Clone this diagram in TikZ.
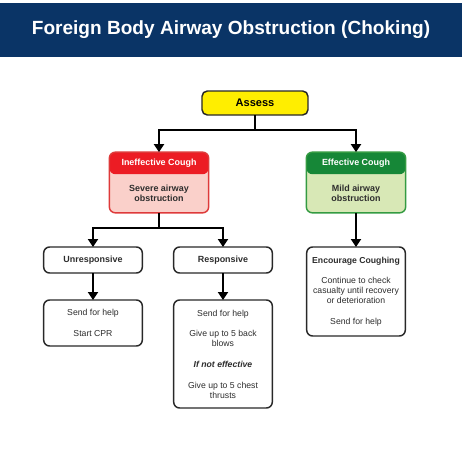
\documentclass[tikz,border=0pt]{standalone}
\usepackage{fontspec}
\setmainfont{Liberation Sans}
\usetikzlibrary{arrows.meta}
\definecolor{navy}{RGB}{10,52,102}
\definecolor{yel}{RGB}{255,238,0}
\definecolor{redhead}{RGB}{236,28,36}
\definecolor{redborder}{RGB}{222,58,58}
\definecolor{pinkbody}{RGB}{250,208,202}
\definecolor{greenhead}{RGB}{22,135,55}
\definecolor{greenborder}{RGB}{52,155,66}
\definecolor{greenbody}{RGB}{216,232,182}
\definecolor{boxline}{RGB}{40,40,40}
\definecolor{txt}{RGB}{45,45,45}
\begin{document}
\begin{tikzpicture}[x=0.75pt,y=-0.75pt,
  every node/.style={inner sep=0pt, outer sep=0pt},
  conn/.style={line width=1.5pt, black},
  arr/.style={conn, -{Triangle[width=7.5pt,length=6pt]}},
  whitebox/.style={draw=boxline, line width=1.1pt, rounded corners=4.5pt, fill=white,
    align=center, minimum width=74pt, text=txt},
  twobox/.style={line width=1.1pt, rounded corners=4.5pt, minimum width=74.5pt, minimum height=45.5pt},
  bold/.style={font=\fontsize{6.7}{7.8}\selectfont\bfseries, align=center},
  plain/.style={font=\fontsize{6.5}{7.5}\selectfont, align=center},
]
\useasboundingbox (0,0) rectangle (462,455);
% title bar
\node[fill=navy, minimum width=346.5pt, minimum height=40.5pt, text=white,
  font=\fontsize{14.3}{16}\selectfont\bfseries] (title) at (231,30) {Foreign Body Airway Obstruction (Choking)};
% assess
\node[draw=boxline, fill=yel, line width=1.1pt, rounded corners=4pt, minimum width=79.5pt,
  minimum height=18pt, font=\fontsize{8.3}{9}\selectfont\bfseries] (assess) at (255,103) {Assess};
% ineffective cough
\node[twobox, draw=redborder, fill=pinkbody, path picture={\fill[redhead] (path picture bounding box.north west) rectangle ([yshift=-16.5pt]path picture bounding box.north east);}] (ineff) at (159,182.5) {};
\node[bold, text=white] (ineffh) at (159,163.5) {Ineffective Cough};
\node[bold, text=txt] (ineffb) at (159,193.5) {Severe airway\\obstruction};
% effective cough
\node[twobox, draw=greenborder, fill=greenbody, path picture={\fill[greenhead] (path picture bounding box.north west) rectangle ([yshift=-16.5pt]path picture bounding box.north east);}] (eff) at (356,182.5) {};
\node[bold, text=white] (effh) at (356,163.5) {Effective Cough};
\node[bold, text=txt] (effb) at (356,193.5) {Mild airway\\obstruction};
% second level
\node[whitebox, bold, minimum height=19.5pt] (unresp) at (93,260) {Unresponsive};
\node[whitebox, bold, minimum height=19.5pt] (resp) at (223,260) {Responsive};
\node[whitebox, plain, minimum height=34.5pt] (send) at (93,323) {Send for help\\[8pt]Start CPR};
\node[whitebox, plain, minimum height=81pt] (respb) at (223,354) {Send for help\\[8pt]Give up to 5 back\\blows\\[8pt]{\bfseries\itshape If not effective}\\[8pt]Give up to 5 chest\\thrusts};
\node[whitebox, plain, minimum height=66.75pt] (enc) at (356,291.5) {{\bfseries Encourage Coughing}\\[8pt]Continue to check\\casualty until recovery\\or deterioration\\[8pt]Send for help};
% connectors
\coordinate (j1) at (255,130);
\coordinate (j2) at (159,228);
\draw[conn] (assess.south) -- (j1);
\draw[arr] (j1) -| (ineff.north);
\draw[arr] (j1) -| (eff.north);
\draw[conn] (ineff.south) -- (j2);
\draw[arr] (j2) -| (unresp.north);
\draw[arr] (j2) -| (resp.north);
\draw[arr] (unresp.south) -- (send.north);
\draw[arr] (resp.south) -- (respb.north);
\draw[arr] (eff.south) -- (enc.north);
\end{tikzpicture}
\end{document}
